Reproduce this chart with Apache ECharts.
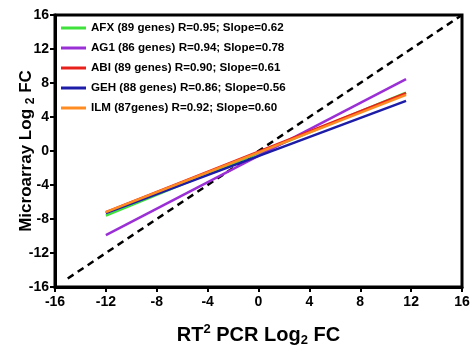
<!DOCTYPE html>
<html>
<head>
<meta charset="utf-8">
<script src="https://cdn.jsdelivr.net/npm/echarts@6/dist/echarts.min.js"></script>
<style>body{margin:0;background:#fff;}</style>
</head>
<body>
<div id="main" style="width:474px;height:351px;"></div>
<script type="text/javascript">

// legend names
var names = ['AFX (89 genes) R=0.95; Slope=0.62',
    'AG1 (86 genes) R=0.94; Slope=0.78',
    'ABI (89 genes) R=0.90; Slope=0.61',
    'GEH (88 genes) R=0.86; Slope=0.56',
    'ILM (87genes) R=0.92; Slope=0.60'];
var colors = ['#3ee23a', '#9b2fd6', '#e8201c', '#1c1ca8', '#ff8c22'];
// fit line end points, x from -12 to 11.6
var xEnds = [-12, 11.6];
var afx = [-7.6, 6.85];
var ag1 = [-9.9, 8.45];
var abi = [-7.2, 6.8];
var geh = [-7.3, 5.9];
var ilm = [-7.2, 6.6];
var identity = [[-15, -15], [16, 16]];

function pts(ys) {
    return [[xEnds[0], ys[0]], [xEnds[1], ys[1]]];
}
var fits = [afx, ag1, abi, geh, ilm];

var series = [{
    type: 'line',
    name: 'identity',
    data: identity,
    symbol: 'none',
    silent: true,
    lineStyle: {color: '#000', width: 2.5, type: [7, 5]}
}];
for (var i = 0; i < names.length; i++) {
    series.push({
        type: 'line',
        name: names[i],
        data: pts(fits[i]),
        symbol: 'none',
        lineStyle: {color: colors[i], width: 2.5},
        itemStyle: {color: colors[i]}
    });
}

var font = 'Liberation Sans, Arial, sans-serif';
var option = {
    animation: false,
    grid: {left: 55, right: 12, top: 15, bottom: 64, outerBoundsMode: 'none',
        show: true, borderColor: '#000', borderWidth: 3},
    legend: {
        data: names,
        orient: 'vertical',
        left: 56,
        top: 17,
        itemWidth: 25,
        itemHeight: 3,
        itemGap: 8,
        icon: 'rect',
        textStyle: {fontFamily: font, fontWeight: 'bold', fontSize: 11.6, color: '#000'}
    },
    xAxis: {
        type: 'value',
        min: -16, max: 16, interval: 4,
        splitLine: {show: false},
        axisLine: {onZero: false, lineStyle: {color: '#000', width: 3}},
        axisTick: {length: 5, lineStyle: {color: '#000', width: 2}},
        axisLabel: {margin: 8, color: '#000', fontFamily: font, fontWeight: 'bold', fontSize: 14},
        name: '{n|RT}{sup|2}{n| PCR Log}{sub|2}{n| FC}',
        nameLocation: 'middle',
        nameGap: 36,
        nameMoveOverlap: false,
        nameTextStyle: {
            rich: {
                n: {fontFamily: font, fontWeight: 'bold', fontSize: 20, color: '#000', lineHeight: 24},
                sup: {fontFamily: font, fontWeight: 'bold', fontSize: 13, color: '#000', verticalAlign: 'top', lineHeight: 24, padding: [0, 0, 6, 0]},
                sub: {fontFamily: font, fontWeight: 'bold', fontSize: 13, color: '#000', verticalAlign: 'bottom', lineHeight: 16}
            }
        }
    },
    yAxis: {
        type: 'value',
        min: -16, max: 16, interval: 4,
        splitLine: {show: false},
        axisLine: {onZero: false, lineStyle: {color: '#000', width: 3}},
        axisTick: {length: 5, lineStyle: {color: '#000', width: 2}},
        axisLabel: {margin: 6, color: '#000', fontFamily: font, fontWeight: 'bold', fontSize: 14},
        name: '{n|Microarray Log }{sub|2}{n| FC}',
        nameLocation: 'middle',
        nameGap: 18,
        nameMoveOverlap: false,
        nameTextStyle: {
            rich: {
                n: {fontFamily: font, fontWeight: 'bold', fontSize: 17, color: '#000', lineHeight: 22},
                sub: {fontFamily: font, fontWeight: 'bold', fontSize: 12, color: '#000', verticalAlign: 'bottom', lineHeight: 14}
            }
        }
    },
    series: series
};

var chart = echarts.init(document.getElementById('main'));
chart.setOption(option);
</script>
</body>
</html>
